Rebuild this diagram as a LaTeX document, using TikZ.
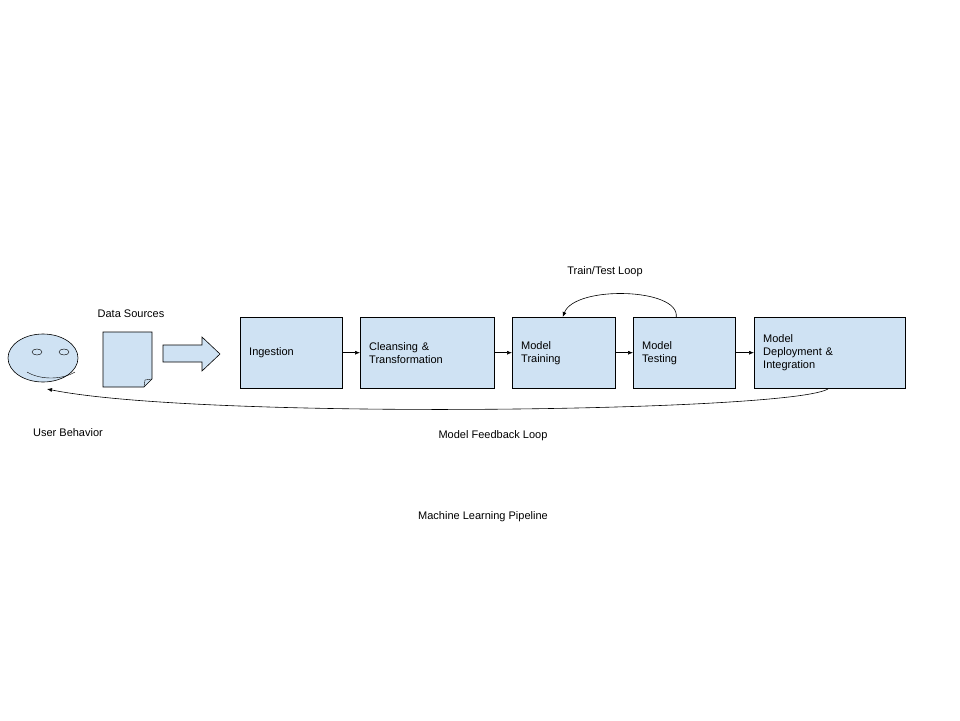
\documentclass[tikz,border=0pt]{standalone}
\usepackage{fontspec}
\setmainfont{Liberation Sans}
\usetikzlibrary{arrows.meta}
\definecolor{boxblue}{HTML}{CFE2F3}
\begin{document}
\begin{tikzpicture}[x=1pt,y=-1pt,
  every node/.style={font=\fontsize{11pt}{13pt}\selectfont},
  stage/.style={draw, fill=boxblue, minimum height=71pt, align=left,
    text width=#1-18pt, inner xsep=9pt, anchor=north west},
  flow/.style={-{Latex[length=5pt,width=4pt]}, line width=0.6pt}]
\useasboundingbox (0,0) rectangle (960,720);
% user
\draw[fill=boxblue, line width=0.6pt] (43,358) ellipse [x radius=35, y radius=24];
\draw[fill=boxblue] (37,352) ellipse [x radius=5, y radius=3];
\draw[fill=boxblue] (64,352) ellipse [x radius=5, y radius=3];
\draw (27,372) .. controls (40,380) and (62,380) .. (75,372);
\coordinate (user) at (47,389);
% document
\draw[fill=boxblue, line width=0.6pt] (103,332) -- (152,332) -- (152,379) -- (144,387) -- (103,387) -- cycle;
\draw (144,387) -- (145,380) -- (152,379);
% block arrow
\draw[fill=boxblue, line width=0.6pt] (163,345) -- (202,345) -- (202,337) -- (220,354) -- (202,371) -- (202,362) -- (163,362) -- cycle;
% stages
\node[stage=102pt] (ing) at (240,317) {Ingestion};
\node[stage=134pt] (cln) at (360,317) {Cleansing \&\\Transformation};
\node[stage=103pt] (trn) at (512,317) {Model\\Training};
\node[stage=102pt] (tst) at (633,317) {Model\\Testing};
\node[stage=151pt] (dep) at (754,317) {Model\\Deployment \&\\Integration};
\draw[flow] (ing) -- (cln);
\draw[flow] (cln) -- (trn);
\draw[flow] (trn) -- (tst);
\draw[flow] (tst) -- (dep);
% loops
\draw[flow] ([xshift=-8pt]tst.north) .. controls (680,288) and (575,285) .. ([xshift=-1pt]trn.north);
\draw[flow] ([xshift=-1pt]dep.south) .. controls (800,412) and (200,420) .. (user);
% labels
\node (lds) at (131,314) {Data Sources};
\node (lub) at (68,433) {User Behavior};
\node (ltt) at (605,272) {Train/Test Loop};
\node (lfb) at (493,436) {Model Feedback Loop};
\node (ttl) at (483,517) {Machine Learning Pipeline};
\end{tikzpicture}
\end{document}
